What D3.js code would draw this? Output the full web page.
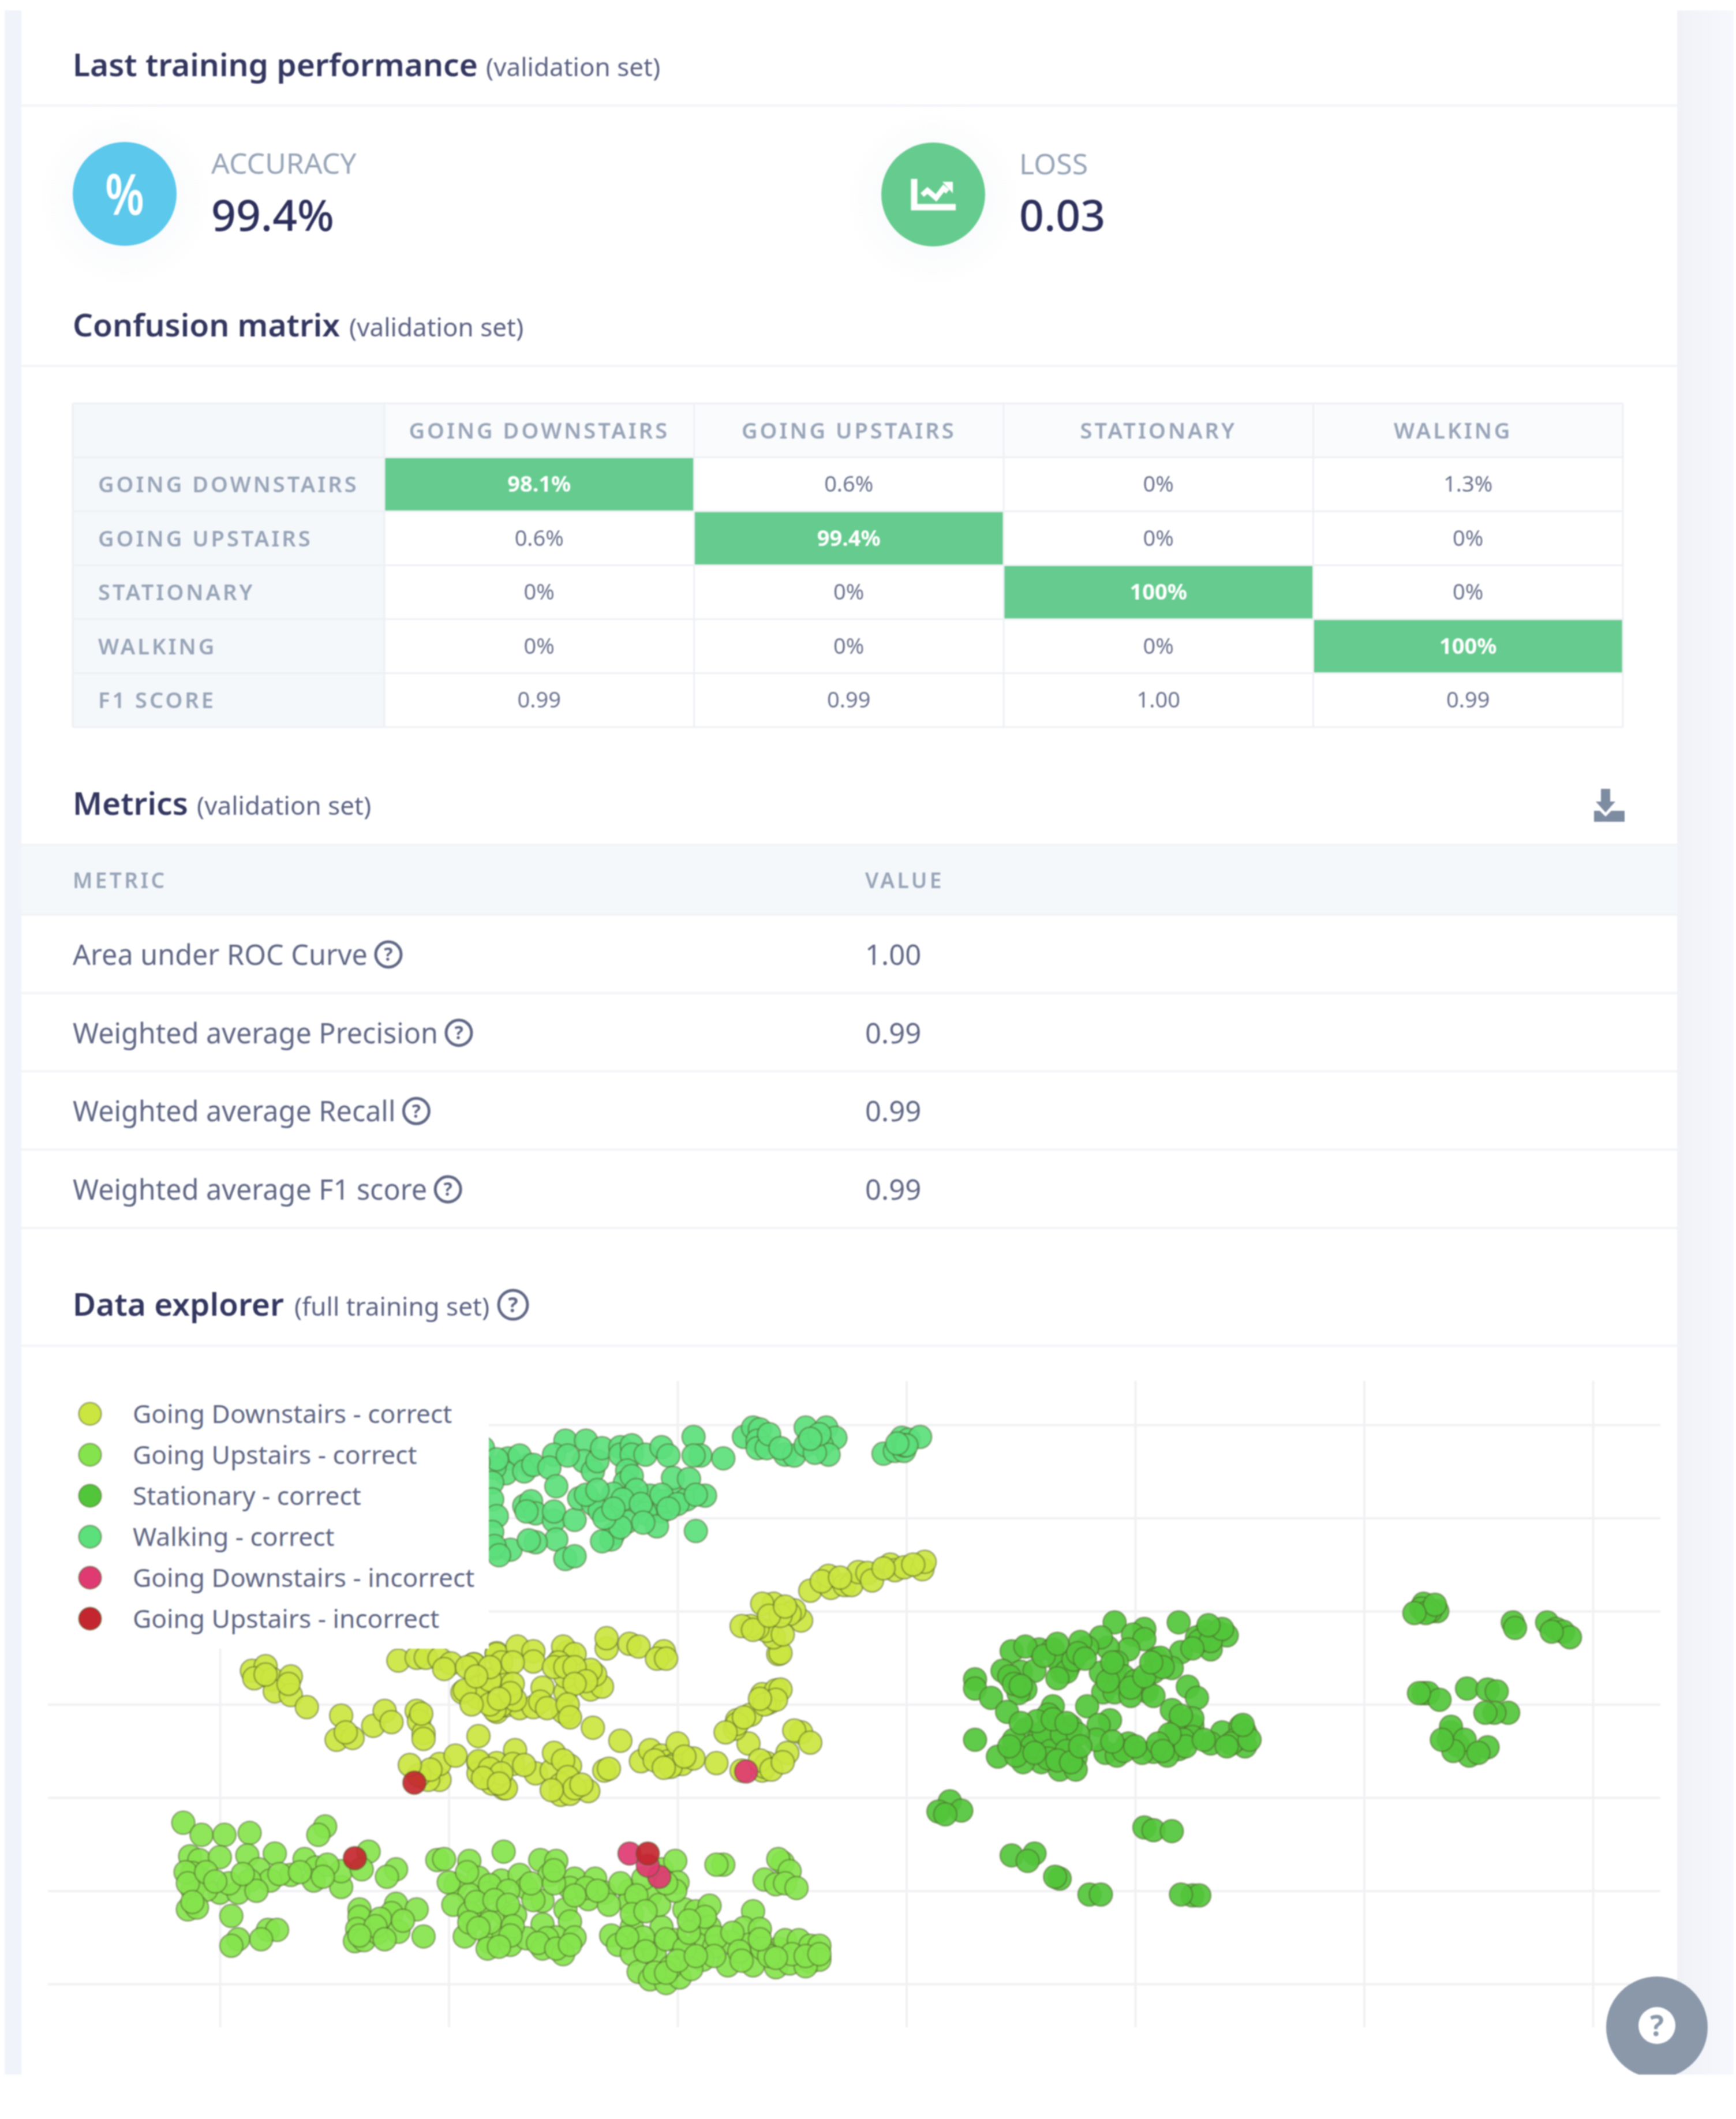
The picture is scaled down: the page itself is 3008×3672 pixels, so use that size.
<!DOCTYPE html>
<html>
<head>
<meta charset="utf-8">
<title>Last training performance</title>
<script src="https://cdn.jsdelivr.net/npm/d3@7"></script>
<style>
html, body { margin: 0; padding: 0; background: #fff; }
text { font-family: "Noto Sans", sans-serif; }
svg { filter: blur(1.1px); }
</style>
</head>
<body>
<div id="visualization"></div>
<script>
// table values
var categories = ['GOING DOWNSTAIRS', 'GOING UPSTAIRS', 'STATIONARY', 'WALKING'];
var confusionRows = [
    ['98.1%', '0.6%', '0%', '1.3%'],
    ['0.6%', '99.4%', '0%', '0%'],
    ['0%', '0%', '100%', '0%'],
    ['0%', '0%', '0%', '100%']
];
var f1Scores = ['0.99', '0.99', '1.00', '0.99'];
var metricNames = ['Area under ROC Curve', 'Weighted average Precision', 'Weighted average Recall', 'Weighted average F1 score'];
var metricValues = ['1.00', '0.99', '0.99', '0.99'];
var legendLabels = ['Going Downstairs - correct', 'Going Upstairs - correct', 'Stationary - correct', 'Walking - correct', 'Going Downstairs - incorrect', 'Going Upstairs - incorrect'];
var gridTicks = [0, 100, 200, 300, 400, 500, 600];

// data explorer points
var downstairsCorrect = [
    [14,336],[20,341],[15,328],[23,327],[31,330],[24,314],[31,310],[38,297],[53,288],[51,262],[58,264],[67,277],[72,293],[75,281],[86,293],[87,282],[89,269],[89,263],
    [93,226],[96,219],[91,219],[96,236],[103,245],[87,224],[113,266],[113,237],[113,226],[121,237],[124,210],[119,215],[78,347],[86,350],[90,350],[96,349],[101,344],[98,338],[111,343],[121,355],
    [106,313],[113,318],[118,327],[113,307],[121,292],[125,299],[123,329],[118,326],[107,315],[111,343],[121,354],[130,362],[137,357],[137,346],[149,348],[152,356],[150,362],[155,354],
    [141,318],[151,313],[151,330],[162,316],[167,319],[164,332],[162,337],[169,360],[169,371],[179,365],[183,362],[194,357],[191,349],[195,349],[131,296],[123,299],[120,294],[137,297],[129,305],
    [152,289],[150,292],[163,275],[175,261],[129,251],[128,236],[125,210],[120,220],[113,239],[138,226],[145,229],[146,248],[153,234],[149,214],[149,203],[153,204],[161,207],[168,229],[170,231],
    [184,239],[188,251],[193,245],[196,239],[199,236],[202,236],[200,258],[207,242],[217,237],[228,229],[237,229],[239,237],[231,258],[225,274],[226,283],[232,289],[248,248],[254,270],[251,272],[258,259],
    [237,311],[243,315],[240,302],[245,316],[244,354],[245,355],[242,372],[239,379],[235,382],[232,384],[228,384],[254,390],[251,401],[249,397],[242,408],[237,408],
    [258,422],[267,425],[266,438],[273,428],[276,428],[279,442],[283,441],[285,433],[293,450],[295,444],[299,447],[307,445],[308,453],
    [123,345],[118,340],[128,345],[108,340],[112,330],[128,322],[127,312],[118,300],[122,306],[140,303],[110,300],[143,296],[148,345],[146,340],[151,340],[155,340],[160,325],[155,322],[152,300],[153,286],
    [118,231],[123,226],[115,221],[122,215],[133,235],[150,240],[152,222],[155,210],[145,208],[158,214],[190,240],[197,233],[203,244],[194,232],[226,279],[229,286],[221,270],[238,233],[236,240],[241,230],[246,238],
    [238,300],[243,305],[236,306],[233,380],[246,375],[245,395],[240,395],[247,405],[263,432],[271,436],[290,446],[303,450],[55,270],[88,290],[30,322],[20,332],[92,230],[83,235]
];
var upstairsCorrect = [
    [-16,173],[-8,160],[2,160],[13,162],[46,169],[43,160],[-13,137],[-9,133],[0,136],[12,138],[24,140],[37,134],[42,125],[17,123],[31,117],[41,111],[22,111],[13,111],[-8,112],[-12,119],[-12,101],[0,98],[8,98],[-6,101],
    [-14,80],[-10,82],[5,73],[21,58],[25,58],[18,48],[8,48],[5,41],[53,104],[53,121],[65,142],[62,123],[77,123],[73,115],[95,133],[98,134],[109,132],[124,142],[140,133],[147,132],[144,117],
    [103,107],[100,109],[113,114],[123,111],[131,117],[134,103],[117,97],[109,96],[102,85],[114,73],[124,76],[129,74],[109,76],[141,89],[151,80],[153,67],[141,64],[107,51],[118,45],[124,53],[127,42],[134,49],[147,50],[143,49],[155,50],[141,38],[150,32],
    [155,113],[153,103],[164,113],[168,98],[161,91],[179,100],[179,88],[188,95],[185,113],[193,123],[199,132],[200,109],[203,80],[208,78],[214,84],[210,60],[214,61],[233,78],[229,60],[236,59],[171,52],[180,61],[183,45],[174,42],[180,32],[193,61],[199,47],[189,40],[190,32],
    [209,42],[216,40],[211,26],[223,45],[231,42],[244,38],[247,47],[253,47],[258,41],[262,41],[222,20],[233,20],[243,18],[249,22],[258,24],[262,26],[256,19],[183,13],[188,5],[195,1],[201,7],[197,18],[206,16],
    [61,80],[61,72],[77,86],[86,80],[75,76],[60,59],[59,46],[63,47],[69,55],[78,56],[89,51],[220,128],[217,128],[246,130],[244,134],[249,121],[238,112],[243,107],[247,108],[252,103],
    [-15,120],[-14,108],[-6,120],[4,108],[-2,110],[16,100],[10,118],[26,118],[35,120],[47,128],[45,115],[-12,88],[108,120],[118,106],[126,100],[112,88],[120,90],[126,85],[137,90],[109,66],[118,66],[113,60],[128,62],[136,108],[146,108],[146,122],[160,103],[175,108],[170,85],[155,95],[165,100],
    [117,38],[127,52],[122,40],[139,44],[147,38],[153,42],[185,50],[178,50],[186,35],[195,48],[203,38],[205,55],[217,50],[224,55],[227,35],[237,38],[240,30],[250,32],[236,48],[212,72],[205,68],[216,30],[228,25],[243,28],[256,30],[262,32],[190,12],[195,12],[200,25],[208,30],
    [182,95],[192,85],[199,100],[195,108],[180,75],[186,78],[70,70],[68,62],[72,48],[61,52],[80,68]
];
var stationaryCorrect = [
    [391,388],[404,381],[399,375],[419,388],[431,378],[436,377],[440,374],[427,372],[433,359],[420,356],[409,349],[416,339],[408,335],[404,370],[397,359],[388,361],[385,372],[379,361],[376,367],[346,357],[358,359],[364,359],
    [342,336],[350,335],[356,336],[371,341],[368,335],[330,327],[330,317],[337,307],[352,316],[349,312],[344,292],[385,334],[391,339],[393,323],[386,313],[391,313],[405,314],[398,309],[408,309],[423,319],[427,307],[416,294],
    [379,298],[364,298],[362,289],[389,283],[384,278],[425,277],[418,272],[438,270],[446,276],[448,270],[433,258],[448,255],[419,252],[414,245],[397,258],[408,249],[403,248],[387,248],[392,245],[383,262],[330,262],[340,244],
    [352,273],[358,263],[365,273],[372,276],[372,262],[352,251],[359,238],[351,238],[374,243],[367,230],[374,230],[366,256],
    [319,196],[314,185],[324,186],[317,182],[404,168],[408,165],[416,164],[346,138],[356,140],[353,132],[367,113],[365,115],[380,96],[385,96],[425,95],[428,95],[420,96],
    [526,408],[525,403],[532,400],[529,400],[565,388],[566,382],[580,388],[584,381],[587,378],[590,372],[582,378],[526,312],[528,312],[533,305],[524,312],[545,317],[554,316],[558,314],[563,291],[557,291],[553,291],[538,270],[541,256],[537,262],[546,245],[554,254],
    [347,262],[355,255],[348,245],[360,270],[363,250],[368,268],[375,268],[370,250],[362,242],[356,248],[345,255],[366,240],[372,238],[357,282],[364,284],[370,280],[350,280],[376,255],
    [392,345],[395,330],[400,325],[388,325],[398,318],[390,345],[404,330],[411,350],[412,340],[407,345],[428,368],[433,368],[425,360],[438,381],[432,385],[345,330],[347,322],[350,320],[367,345],[370,335],[366,328],[373,348],[352,362],[360,352],[366,365],[375,355],[378,349],
    [425,285],[420,288],[425,265],[421,262],[422,255],[415,268],[430,262],[444,262],[442,258],[450,262],[447,278],[440,255],[395,250],[400,255],[410,258],[412,250],[390,260],
    [527,398],[531,407],[522,398],[538,276],[544,262],[539,250],[534,262],[550,248]
];
var walkingCorrect = [
    [115,575],[113,548],[113,520],[113,490],[114,470],[151,583],[160,583],[146,568],[135,557],[126,564],[131,567],[125,548],[133,550],[137,557],[144,554],[147,534],[120,554],[119,538],[119,520],[121,502],[119,485],[120,467],[127,466],
    [133,513],[136,518],[138,505],[134,507],[146,497],[146,507],[155,498],[157,521],[163,515],[166,508],[159,561],[163,550],[165,561],[167,575],[175,576],[175,568],[180,578],[180,568],[186,568],[193,576],[196,567],
    [178,551],[177,538],[172,526],[180,524],[176,512],[188,524],[199,521],[204,520],[212,524],[198,543],[205,542],[193,507],[194,518],[186,505],[191,491],[178,496],[172,483],[171,477],[167,475],[147,477],[138,474],[135,476],[151,456],[155,459],[208,486],
    [207,587],[210,567],[207,567],[220,564],[229,587],[233,597],[236,595],[235,583],[235,575],[239,575],[247,568],[251,567],[256,597],[265,597],[269,586],[256,578],[263,578],[266,568],[290,569],[295,572],[299,572],[298,586],[301,584],[306,587],[299,578],
    [180,545],[182,530],[176,520],[184,515],[193,525],[200,515],[208,525],[196,510],[185,495],[175,490],[168,500],[172,510],[160,525],[165,530],[120,470],[122,460],[240,590],[245,575],[260,570],[262,590],[258,585],[300,578],[296,580],[121,563],[113,560],[152,567]
];
var downstairsIncorrect = [[230,228],[179,140],[192,115],[187,127]];
var upstairsIncorrect = [[85,216],[59,135],[187,140]];

var seriesFills = ['#cbe640', '#85e44d', '#52c63b', '#5ce07c', '#e03a72', '#c4262f'];
var seriesPoints = [downstairsCorrect, upstairsCorrect, stationaryCorrect, walkingCorrect, downstairsIncorrect, upstairsIncorrect];

var headingColor = '#2c2f5b', subColor = '#5e6484', mutedColor = '#98a5b8', bodyColor = '#616885', ruleColor = '#f3f4f8';
var tintColor = '#f5f8fb', greenColor = '#66cb8f';

var svg = d3.select('#visualization').append('svg')
    .attr('width', 3008).attr('height', 3672)
    .style('display', 'block');

var defs = svg.append('defs');
defs.append('filter').attr('id', 'soft').attr('x', '-50%').attr('y', '-50%').attr('width', '200%').attr('height', '200%')
    .append('feGaussianBlur').attr('stdDeviation', 30);
defs.append('clipPath').attr('id', 'pageClip').append('rect').attr('x', 0).attr('y', 0).attr('width', 3008).attr('height', 3595);
var stripFill = defs.append('linearGradient').attr('id', 'stripFill');
stripFill.append('stop').attr('offset', 0).attr('stop-color', '#f0f2f8');
stripFill.append('stop').attr('offset', 1).attr('stop-color', '#f7f8fd');

// page side strips
svg.append('rect').attr('x', 8).attr('y', 18).attr('width', 29).attr('height', 3577).attr('fill', '#f1f3fa');
svg.append('rect').attr('x', 2906).attr('y', 18).attr('width', 98).attr('height', 3577).attr('fill', 'url(#stripFill)');

var text = function(x, y, str, size, color, weight, anchor, spacing) {
    return svg.append('text')
        .attr('x', x).attr('y', y)
        .attr('font-size', size)
        .attr('fill', color)
        .attr('font-weight', weight || 400)
        .attr('text-anchor', anchor || 'start')
        .attr('letter-spacing', spacing || 0)
        .text(str);
};

var rule = function(y) {
    svg.append('rect').attr('x', 37).attr('y', y - 2).attr('width', 2869).attr('height', 4).attr('fill', ruleColor);
};

var helpIcon = function(cx, cy, r) {
    svg.append('circle').attr('cx', cx).attr('cy', cy).attr('r', r).attr('fill', 'none').attr('stroke', bodyColor).attr('stroke-width', 5);
    text(cx, cy + r * 0.52, '?', r * 1.45, bodyColor, 700, 'middle');
};

// section headings
var heading = function(baseline, title, note, noteX) {
    text(126, baseline, title, 55, '#33365f', 600);
    text(noteX, baseline, note, 44, subColor);
};
heading(132, 'Last training performance', '(validation set)', 842);
rule(183);
heading(583, 'Confusion matrix', '(validation set)', 605);
rule(634);
heading(1412, 'Metrics', '(validation set)', 341);
heading(2280, 'Data explorer', '(full training set)', 510);
rule(2332);
helpIcon(889, 2261, 25);

// accuracy and loss tiles
svg.append('circle').attr('cx', 216).attr('cy', 345).attr('r', 115).attr('fill', '#eef1f5').attr('opacity', 0.35).attr('filter', 'url(#soft)');
svg.append('circle').attr('cx', 1617).attr('cy', 345).attr('r', 115).attr('fill', '#eef1f5').attr('opacity', 0.35).attr('filter', 'url(#soft)');
svg.append('circle').attr('cx', 216).attr('cy', 336).attr('r', 90).attr('fill', '#5bc8ec');
text(216, 372, '%', 98, '#fff', 600, 'middle').attr('textLength', 68).attr('lengthAdjust', 'spacingAndGlyphs');
text(366, 301, 'ACCURACY', 50, mutedColor);
text(366, 400, '99.4%', 75, headingColor, 500);

svg.append('circle').attr('cx', 1617).attr('cy', 337).attr('r', 90).attr('fill', greenColor);
svg.append('path')
    .attr('d', 'M1584 310V359H1656')
    .attr('fill', 'none').attr('stroke', '#fff').attr('stroke-width', 11);
svg.append('path')
    .attr('d', 'M1598 338L1607 330L1622 343L1635 326L1642 332')
    .attr('fill', 'none').attr('stroke', '#fff').attr('stroke-width', 9);
svg.append('path').attr('d', 'M1633 315H1651V335Z').attr('fill', '#fff');
text(1766, 302, 'LOSS', 50, mutedColor);
text(1766, 400, '0.03', 75, headingColor, 500);

// confusion matrix
var tableRows = [''].concat(categories).concat(['F1 SCORE']);
var tableTop = 699, tableBottom = 1260, tableRight = 2812;
var rowScale = d3.scaleBand().domain(d3.range(tableRows.length)).range([tableTop, tableBottom]);
var colScale = d3.scaleBand().domain(d3.range(4)).range([666, tableRight]);
var headShift = [0, 0, 0, -26];
var table = svg.append('g');
table.append('rect').attr('x', 126).attr('y', tableTop).attr('width', tableRight - 126).attr('height', tableBottom - tableTop).attr('fill', '#fff');
table.append('rect').attr('x', 126).attr('y', tableTop).attr('width', 540).attr('height', tableBottom - tableTop).attr('fill', tintColor);
table.append('rect').attr('x', 666).attr('y', tableTop).attr('width', tableRight - 666).attr('height', rowScale.bandwidth()).attr('fill', '#fafbfd');

var cells = [];
confusionRows.forEach(function(row, r) {
    row.forEach(function(value, c) {
        cells.push({ r: r + 1, c: c, value: value, hit: r === c });
    });
});
f1Scores.forEach(function(value, c) {
    cells.push({ r: 5, c: c, value: value, hit: false });
});

table.selectAll('rect.hit').data(cells.filter(function(d) { return d.hit; })).enter().append('rect')
    .attr('class', 'hit')
    .attr('x', function(d) { return colScale(d.c); })
    .attr('y', function(d) { return rowScale(d.r); })
    .attr('width', colScale.bandwidth())
    .attr('height', rowScale.bandwidth())
    .attr('fill', greenColor);

table.selectAll('line.row').data(d3.range(tableRows.length + 1)).enter().append('line')
    .attr('class', 'row')
    .attr('x1', 126).attr('x2', tableRight)
    .attr('y1', function(d) { return tableTop + d * rowScale.step(); })
    .attr('y2', function(d) { return tableTop + d * rowScale.step(); })
    .attr('stroke', '#eef0f4').attr('stroke-width', 3);
table.selectAll('line.col').data([126].concat(colScale.domain().map(colScale)).concat([tableRight])).enter().append('line')
    .attr('class', 'col')
    .attr('x1', function(d) { return d; }).attr('x2', function(d) { return d; })
    .attr('y1', tableTop).attr('y2', tableBottom)
    .attr('stroke', '#eef0f4').attr('stroke-width', 3);

table.selectAll('text.cell').data(cells).enter().append('text')
    .attr('class', 'cell')
    .attr('x', function(d) { return colScale(d.c) + colScale.bandwidth() / 2; })
    .attr('y', function(d) { return rowScale(d.r) + rowScale.bandwidth() / 2 + 13; })
    .attr('text-anchor', 'middle')
    .attr('font-size', 38)
    .attr('font-weight', function(d) { return d.hit ? 700 : 400; })
    .attr('fill', function(d) { return d.hit ? '#fff' : '#6e7590'; })
    .text(function(d) { return d.value; });

table.selectAll('text.side').data(tableRows.slice(1)).enter().append('text')
    .attr('class', 'side')
    .attr('x', 170)
    .attr('y', function(d, i) { return rowScale(i + 1) + rowScale.bandwidth() / 2 + 14; })
    .attr('font-size', 38)
    .attr('font-weight', 600)
    .attr('letter-spacing', 4)
    .attr('fill', mutedColor)
    .text(function(d) { return d; });

table.selectAll('text.head').data(categories).enter().append('text')
    .attr('class', 'head')
    .attr('x', function(d, i) { return colScale(i) + colScale.bandwidth() / 2 + headShift[i]; })
    .attr('y', rowScale(0) + rowScale.bandwidth() / 2 + 14)
    .attr('text-anchor', 'middle')
    .attr('font-size', 38)
    .attr('font-weight', 600)
    .attr('letter-spacing', 4)
    .attr('fill', mutedColor)
    .text(function(d) { return d; });

// metrics table
svg.append('path').attr('d', 'M2775 1368H2791V1390H2800L2783 1409L2766 1390H2775ZM2763 1406H2773L2783 1416L2793 1406H2816V1425H2763Z')
    .attr('fill', '#7e8ca2').attr('transform', 'translate(-1 -1)');
svg.append('rect').attr('x', 37).attr('y', 1464).attr('width', 2869).attr('height', 121).attr('fill', tintColor);
rule(1464);
rule(1585);
text(126, 1539, 'METRIC', 37, mutedColor, 600, 'start', 4.4);
text(1499, 1539, 'VALUE', 37, mutedColor, 600, 'start', 4.4);

var metricY = d3.scalePoint().domain(d3.range(4)).range([1655, 2062]);
var metricWidths = [];
svg.selectAll('text.metric').data(metricNames).enter().append('text')
    .attr('class', 'metric')
    .attr('x', 126)
    .attr('y', function(d, i) { return metricY(i) + 17; })
    .attr('font-size', 48.5)
    .attr('fill', bodyColor)
    .text(function(d) { return d; })
    .each(function(d, i) { metricWidths[i] = this.getComputedTextLength(); });
metricNames.forEach(function(d, i) {
    helpIcon(126 + metricWidths[i] + 36, metricY(i) - 1, 22);
    rule(metricY(i) + 66);
});
svg.selectAll('text.metricValue').data(metricValues).enter().append('text')
    .attr('class', 'metricValue')
    .attr('x', 1499)
    .attr('y', function(d, i) { return metricY(i) + 17; })
    .attr('font-size', 49)
    .attr('fill', bodyColor)
    .text(function(d) { return d; });

// data explorer
var x = d3.scaleLinear().domain([0, 600]).range([381, 2760]);
var y = d3.scaleLinear().domain([0, 600]).range([3438, 2469]);
var plotLeft = 83, plotRight = 2877, plotTop = 2393, plotBottom = 3513;

var xGrid = d3.axisBottom(x).tickValues(gridTicks).tickSize(-(plotBottom - plotTop)).tickFormat('');
var yGrid = d3.axisLeft(y).tickValues(gridTicks).tickSize(-(plotRight - plotLeft)).tickFormat('');
svg.append('g').attr('transform', 'translate(0,' + plotBottom + ')').call(xGrid)
    .call(function(g) { g.select('.domain').remove(); })
    .selectAll('line').attr('stroke', '#f1f1f4').attr('stroke-width', 4);
svg.append('g').attr('transform', 'translate(' + plotLeft + ',0)').call(yGrid)
    .call(function(g) { g.select('.domain').remove(); })
    .selectAll('line').attr('stroke', '#f1f1f4').attr('stroke-width', 4);

seriesPoints.forEach(function(points, i) {
    svg.append('g').selectAll('circle').data(points).enter().append('circle')
        .attr('cx', function(d) { return x(d[0]); })
        .attr('cy', function(d) { return y(d[1]); })
        .attr('r', 20)
        .attr('fill', seriesFills[i])
        .attr('fill-opacity', 0.92)
        .attr('stroke', '#4d5a28')
        .attr('stroke-opacity', 0.42)
        .attr('stroke-width', 3);
});

// legend sits over the plot and hides what is under it
svg.append('rect').attr('x', 83).attr('y', 2393).attr('width', 764).attr('height', 464).attr('fill', '#fff');
var legendY = d3.scalePoint().domain(d3.range(6)).range([2450, 2805]);
svg.selectAll('circle.legend').data(legendLabels).enter().append('circle')
    .attr('class', 'legend')
    .attr('cx', 156)
    .attr('cy', function(d, i) { return legendY(i); })
    .attr('r', 19.5)
    .attr('fill', function(d, i) { return seriesFills[i]; })
    .attr('stroke', '#4d5a28')
    .attr('stroke-opacity', 0.4)
    .attr('stroke-width', 3);
svg.selectAll('text.legend').data(legendLabels).enter().append('text')
    .attr('class', 'legend')
    .attr('x', 230)
    .attr('y', function(d, i) { return legendY(i) + 16; })
    .attr('font-size', 44.3)
    .attr('fill', bodyColor)
    .text(function(d) { return d; });

// help bubble, cut by the page edge
var bubble = svg.append('g').attr('clip-path', 'url(#pageClip)');
bubble.append('circle').attr('cx', 2871).attr('cy', 3513).attr('r', 88).attr('fill', '#8a98aa');
bubble.append('circle').attr('cx', 2871).attr('cy', 3510).attr('r', 32).attr('fill', '#fff');
bubble.append('text').attr('x', 2871).attr('y', 3528).attr('text-anchor', 'middle')
    .attr('font-size', 50).attr('font-weight', 700).attr('fill', '#8a98aa').text('?');
</script>
</body>
</html>
